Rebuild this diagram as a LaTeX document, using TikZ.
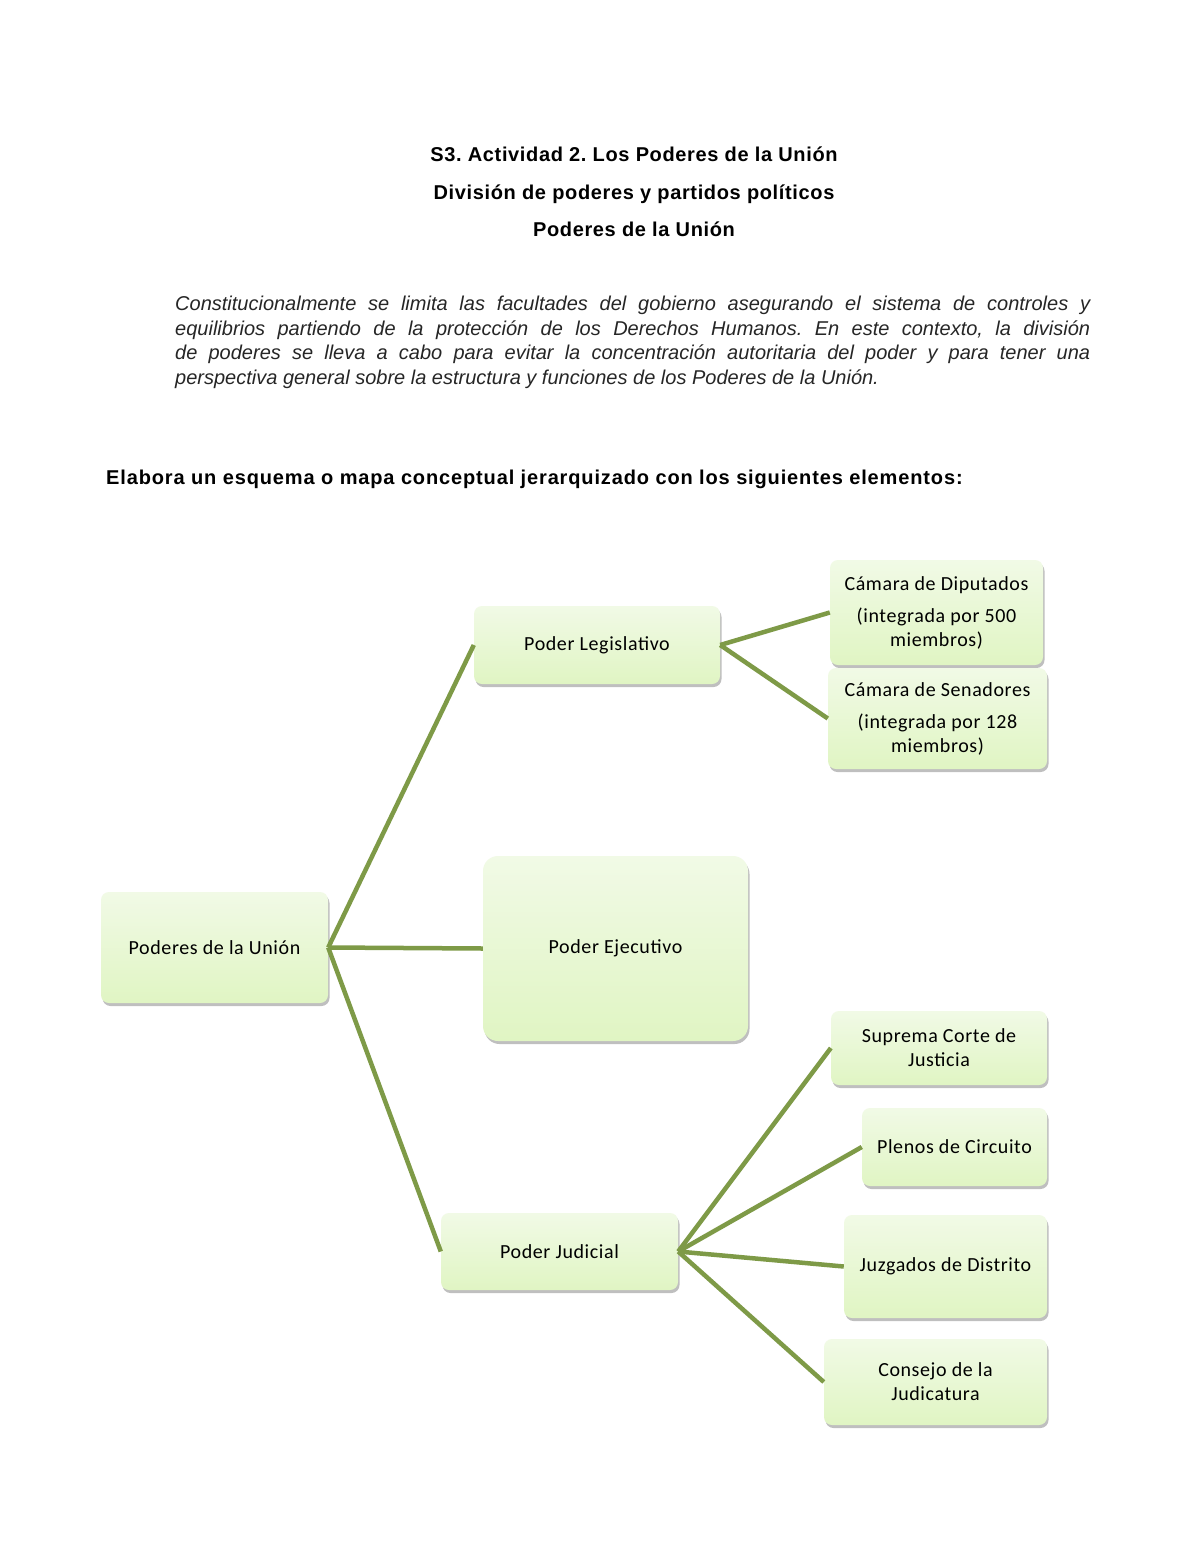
\documentclass[tikz,border=0pt]{standalone}
\usepackage{fontspec}
\setmainfont{Liberation Sans}
\newfontfamily\calib[LetterSpace=3]{Carlito}
\newfontfamily\ttlfont[LetterSpace=3.2]{Liberation Sans}
\newfontfamily\headfont[LetterSpace=4.3]{Liberation Sans}
\usetikzlibrary{shadows}
\definecolor{gtop}{HTML}{F1FAE6}
\definecolor{gbot}{HTML}{E0F5C3}
\definecolor{lg}{HTML}{7E9A47}
\tikzset{
  box/.style={rounded corners=8pt, top color=gtop, bottom color=gbot, draw=none,
    font=\calib\fontsize{20}{24}\selectfont, align=center, inner sep=2pt,
    drop shadow={shadow xshift=1.5pt, shadow yshift=-3pt, fill=black!50}},
  link/.style={draw=lg, line width=4.5pt},
  ttl/.style={font=\ttlfont\bfseries\fontsize{20}{24}\selectfont, anchor=base},
}
\begin{document}
\frenchspacing
\begin{tikzpicture}[x=1pt,y=-1pt]
\useasboundingbox[fill=white] (0,0) rectangle (1200,1553);
% titles
\node[ttl] (t1) at (634,161) {S3. Actividad 2. Los Poderes de la Unión};
\node[ttl] (t2) at (634,199) {División de poderes y partidos políticos};
\node[ttl] (t3) at (634,236) {Poderes de la Unión};
\node[anchor=north west, inner sep=0pt, text width=915pt, align=justify,
  font=\itshape\fontsize{20}{24.6}\selectfont, text=black!85] (para) at (175,296)
  {Constitucionalmente se limita las facultades del gobierno asegurando el sistema de controles y\linebreak
   equilibrios partiendo de la protección de los Derechos Humanos. En este contexto, la división\linebreak
   de poderes se lleva a cabo para evitar la concentración autoritaria del poder y para tener una\linebreak
   perspectiva general sobre la estructura y funciones de los Poderes de la Unión.};
\node[anchor=base west, inner sep=0pt, font=\headfont\bfseries\fontsize{20}{24}\selectfont] (head) at (106,484)
  {Elabora un esquema o mapa conceptual jerarquizado con los siguientes elementos:};
% nodes
\node[box, minimum width=227pt, minimum height=111pt] (union) at (214.5,947.5) {Poderes de la Unión};
\node[box, minimum width=246pt, minimum height=78pt] (leg) at (597,645) {Poder Legislativo};
\node[box, rounded corners=15pt, minimum width=265pt, minimum height=185pt] (eje) at (615.5,948.5) {Poder Ejecutivo};
\node[box, minimum width=237pt, minimum height=77pt] (jud) at (559.5,1251.5) {Poder Judicial};
\node[box, minimum width=213pt, minimum height=105pt] (dip) at (936.5,612.5)
  {Cámara de Diputados\\[8pt](integrada por 500\\miembros)};
\node[box, minimum width=219pt, minimum height=101pt] (sen) at (937.5,718.5)
  {Cámara de Senadores\\[8pt](integrada por 128\\miembros)};
\node[box, minimum width=216pt, minimum height=74pt] (sup) at (939,1048)
  {Suprema Corte de\\Justicia};
\node[box, minimum width=185pt, minimum height=78pt] (ple) at (954.5,1147) {Plenos de Circuito};
\node[box, minimum width=203pt, minimum height=103pt] (juz) at (945.5,1266.5) {Juzgados de Distrito};
\node[box, minimum width=223pt, minimum height=86pt] (con) at (935.5,1382) {Consejo de la\\Judicatura};
% links
\draw[link] (union.east) -- (leg.west);
\draw[link] (union.east) -- (eje.west);
\draw[link] (union.east) -- (jud.west);
\draw[link] (leg.east) -- (dip.west);
\draw[link] (leg.east) -- (sen.west);
\draw[link] (jud.east) -- (sup.west);
\draw[link] (jud.east) -- (ple.west);
\draw[link] (jud.east) -- (juz.west);
\draw[link] (jud.east) -- (con.west);
\end{tikzpicture}
\end{document}
